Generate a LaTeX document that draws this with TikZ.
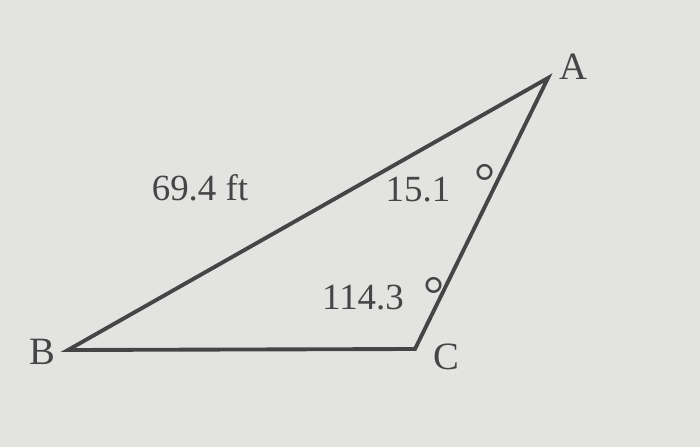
\documentclass[tikz,border=0pt]{standalone}
\usepackage{fontspec}
\setmainfont{Liberation Serif}
\usepackage{xcolor}
\usepackage{tikz}
\tikzset{>=latex}
\definecolor{paper}{HTML}{E3E3E1}
\definecolor{ink}{HTML}{454545}
\tikzset{
  side/.style={line width=2.2pt, draw=ink, line join=miter},
  vlabel/.style={font=\fontsize{22}{24}\selectfont, text=ink, inner sep=0pt},
  mlabel/.style={font=\fontsize{21}{23}\selectfont, text=ink, inner sep=0pt},
  deg/.style={font=\fontsize{30}{32}\selectfont, text=ink, inner sep=0pt}
}

\begin{document}
\begin{tikzpicture}

% Background
\fill[paper] (0,0) rectangle (14,8.94);
\useasboundingbox (0,0) rectangle (14,8.94);

% Vertices
\coordinate (A) at (10.96, 7.38);
\coordinate (B) at (1.36, 1.94);
\coordinate (C) at (8.30, 1.96);

\draw[side] (A) -- (B) -- (C) -- cycle;

% Vertex labels
\node[vlabel] (lA) at (11.46, 7.60) {A};
\node[vlabel] (lB) at (0.84, 1.90) {B};
\node[vlabel] (lC) at (8.92, 1.80) {C};

% Measures
\node[mlabel] (side) at (4.00, 5.18) {69.4 ft};
\node[mlabel] (angA) at (8.36, 5.14) {15.1};
\node[deg] (dA) at (9.70, 5.30) {°};
\node[mlabel] (angC) at (7.26, 2.98) {114.3};
\node[deg] (dC) at (8.68, 3.04) {°};

\end{tikzpicture}
\end{document}
